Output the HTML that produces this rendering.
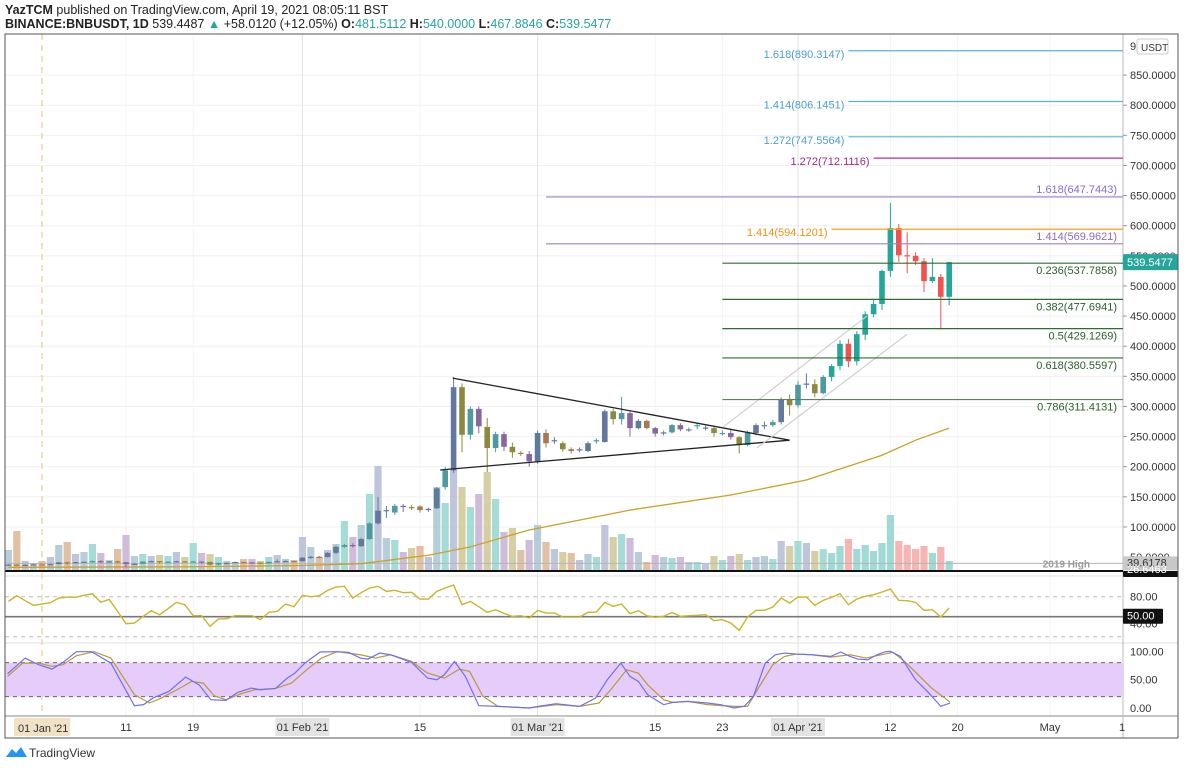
<!DOCTYPE html>
<html><head><meta charset="utf-8"><style>
html,body{margin:0;padding:0;background:#fff;}
svg{display:block;font-family:"Liberation Sans",sans-serif;}
</style></head><body>
<svg id="chart" width="1186" height="768" viewBox="0 0 1186 768" xmlns="http://www.w3.org/2000/svg">
<rect x="0" y="0" width="1186" height="768" fill="#fff"/>
<g font-size="12.5" fill="#222">
<text x="5" y="14"><tspan font-weight="bold">YazTCM</tspan> published on TradingView.com, April 19, 2021 08:05:11 BST</text>
<text x="5" y="28"><tspan font-weight="bold">BINANCE:BNBUSDT, 1D</tspan> 539.4487 <tspan fill="#26a69a">▲</tspan> +58.0120 (+12.05%) <tspan font-weight="bold">O:</tspan><tspan fill="#26a69a">481.5112</tspan> <tspan font-weight="bold">H:</tspan><tspan fill="#26a69a">540.0000</tspan> <tspan font-weight="bold">L:</tspan><tspan fill="#26a69a">467.8846</tspan> <tspan font-weight="bold">C:</tspan><tspan fill="#26a69a">539.5477</tspan></text>
</g>
<g id="grid"></g>
<g id="vols"></g>
<g id="main"></g>
<g id="ind"></g>
<g id="axes" font-size="11" fill="#333"></g>
<rect x="5" y="34" width="1173" height="704" fill="none" stroke="#555" stroke-width="1"/>
<g>
<path d="M6 757 l6 -8 l4 4 l5 -6 l6 10 z" fill="#2196f3"/>
<text x="29" y="757" font-size="12" fill="#333">TradingView</text>
</g>
</svg>
<script>
// ---- data ----
const firstDay = -4; // Dec 28 2020; day 0 = Jan 1 2021
const opens  = [36.5,37.5,37,37.2,37.9,37.4,38.3,41.3,40.9,41.7,42.2,43.2,42,42.8,41.5,38.5,38.8,42.5,43.3,41.6,42.3,43,42.2,42.6,42,37.5,40.2,40.2,41.8,41.2,41,39.5,42.1,43,43.5,43,49,50.5,50,57,67,70,68,80,106,127,124,135,133,134,128,131,166,194,332,253,296,266,231,254,233,223,221,209,256,243,239,229,228,226,242,241,292,279,289,264,276,264,257,257,269,262,268,264,264,256,256,249,236,256,269,269,274,311,302,338,337,322,349,367,404,375,419,453,470,525,596,551,550,541,508,515,482];
const highs  = [38,38.5,38,38.3,38.8,39,42,42.5,42,42.5,44.5,44.8,43.4,44,41.8,40,43,44,43.5,42.8,43.8,43.2,43.8,43,42.2,41,41,42.5,42.5,42,41.2,42.5,46,44.5,44,50,52,52,58,69,72,73,82,108,150,135,138,138,136,136,132,166,200,349,338,300,300,281,258,258,240,226,226,260,262,249,242,232,232,242,247,295,296,316,292,279,278,266,260,271,272,265,272,268,268,260,262,251,260,272,275,278,315,320,342,355,345,352,370,410,412,425,458,478,527,638,603,589,556,546,546,520,540];
const lows   = [35.5,36,36,36.6,36.9,36.3,37.8,37,39.2,40.5,40.8,40,41,40,33,36.8,38,41.5,39.5,40.5,41.2,41,41.8,39,36.5,36,39.5,40,40.5,40,38.5,39,41.5,42,41.5,42.5,47,48,49.5,55,65,66,67,78,104,115,120,125,128,124,125,130,162,190,224,245,255,191,224,226,215,218,200,205,232,238,225,222,224,224,238,240,270,270,250,262,262,250,252,255,259,258,262,260,250,252,245,222,234,252,262,266,270,285,298,330,315,320,342,360,365,368,410,448,460,515,540,521,535,490,505,428,468];
const closes = [37.5,37,37.2,37.9,37.4,38.3,41.3,40.9,41.7,42.2,43.2,42,42.8,41.5,38.5,38.8,42.5,43.3,41.6,42.3,43,42.2,42.6,42,37.5,40.2,40.2,41.8,41.2,41,39.5,42.1,43,43.5,42.8,49,50.5,50,57,67,70,68,80,106,127,128,135,133,132,128,130,164,194,332,253,296,267,231,254,233,224,221,209,256,239,244,229,226,229,239,244,292,279,289,264,276,264,255,257,269,262,262,269,265,256,256,249,236,256,269,269,274,311,302,336,338,322,349,367,404,375,420,453,470,525,596,551,550,541,508,515,482,539.5];
const volumes = [21,40,10,8,10,14,26,29,17,19,27,18,11,22,36,15,17,15,16,15,19,14,28,18,17,14,10,9,12,12,10,14,16,12,11,34,24,14,21,27,50,34,46,77,105,33,31,19,23,25,14,84,68,101,84,64,77,99,72,39,43,21,31,46,29,22,19,18,11,17,14,46,34,37,33,19,9,16,14,13,14,9,9,7,15,11,15,17,11,14,15,12,30,25,30,28,20,22,18,25,32,22,26,20,28,56,30,26,22,25,18,24,10];
const maDays = [-4,18,31,38,46,51,58,70,82,91,100,104,108];
const maVals = [33,34,36,39,53,67,95,128,153,178,219,244,264];
const rsiVals = [73,81.5,74,67,69,71,78,79.5,79,82,84.5,71.5,76,58,39.5,40.5,50,59,53,62,71.5,68,51.5,51.5,35.5,46.5,47,51.5,51.5,51.5,45.5,56.5,58,69,65,82,80,81.5,89.5,94.5,95.5,78,86,93,95.5,88,89.5,86,86.5,76.5,76.5,88,93,97.5,68,73,65,56.5,60.5,55,50.5,51.5,48,59.5,55.5,55.5,49.5,49.5,49.5,56.5,57,71.5,65.5,69,54.5,59,51.5,49,50.5,56.5,50.5,51.5,52,53,44,45.5,40.5,29.5,49.5,59.5,59.5,64.5,78,70.5,79.5,79.5,67,74.5,79,84.5,68,76.5,80.5,83,87,91.5,74.5,74,71.5,59.5,60.5,49.5,63];
const kDays = [-4.1,-2,-0.4,1.2,2.5,4.1,5.9,8.2,11,12.1,13.2,15.1,17.1,18.7,20.1,21.9,23.3,24.9,26,27.8,29.2,30.1,31.3,33.1,35.1,36.5,37.9,38.8,40.2,41.5,44,45.9,47,47.9,49.1,50.4,52,54.3,58,59.1,61.2,64,65.9,67.3,68.9,70,71,72.1,74,75.1,76.9,79.2,80.8,82.4,83.6,84.7,86.1,87.3,88.4,89.8,91.6,93.9,95.1,96.2,97.1,98.3,99.4,100.4,101,102.2,104,105.4,107,108.1];
const kVals = [60.4,88.1,76.3,68.6,80.4,99.3,99.3,79.2,4.1,5.9,17.5,29.2,54.5,40.9,14.6,13.4,27.5,35.1,32.2,34.5,52.7,61.5,79.2,98.8,99.3,98.2,88.1,86.3,96.9,93.9,80.4,52.7,49.8,58.6,82.2,55.7,4.1,2.9,0,2.9,7.6,2.9,17.5,49.8,79.2,55.7,46.8,23.4,5.9,9.9,11.7,8.8,5.9,0,2.9,20.5,79.2,93.9,96.9,95.1,93.9,91,98.8,91,86.3,85.1,93.9,99.3,99.9,91,49.8,29.2,2.9,8.8];
const dDays = [-4.1,-2.3,-0.4,1.2,2.5,4.1,6.2,8.2,11,12.8,14.2,16.2,17.8,19.2,20.5,21.9,23.7,25.3,27.8,29.7,31.5,33.3,35.1,37.9,39.7,41.5,44,45.9,47.9,49.7,50.9,52.5,54.3,58,61.2,64,66.3,67.7,69.6,71,72.1,74,75.1,76.9,79.2,82.4,84,85.4,87,88.4,89.8,91.6,93.9,96.2,98.1,99.4,101.3,102.7,104.5,105.9,108.1];
const dVals = [55.7,79.2,79.2,73.3,76.3,92.2,99.3,88.1,23.4,8.8,17.5,33.3,46.8,43.9,21.6,14.6,25.2,32.2,34.5,43.9,67.4,88.1,99.3,93.9,88.1,93.9,82.2,61.5,52.7,68.6,64.5,20.5,2.9,0,5.9,2.9,8.8,32.2,67.4,61.5,40.9,14.6,9.9,11.7,5.9,2.9,2.9,38,76.3,91,95.1,93.9,89.8,93.9,88.1,92.2,98.2,82.2,55.7,35.1,10.5];
const priceTicks = [100,150,200,250,300,350,400,450,500,550,600,650,700,750,800,850];
const priceTickLabels = ["100.0000","150.0000","200.0000","250.0000","300.0000","350.0000","400.0000","450.0000","500.0000","550.0000","600.0000","650.0000","700.0000","750.0000","800.0000","850.0000"];
const timeTickDays = [10,18,31,45,59,73,81,90,101,109,120];
const timeTickLabels = ["11","19","01 Feb '21","15","01 Mar '21","15","23","01 Apr '21","12","20","May"];
const fibPrices = [890.3147,806.1451,747.5564,712.1116,647.7443,594.1201,569.9621,537.7858,477.6941,429.1269,380.5597,311.4131];
const fibLabels = ["1.618(890.3147)","1.414(806.1451)","1.272(747.5564)","1.272(712.1116)","1.618(647.7443)","1.414(594.1201)","1.414(569.9621)","0.236(537.7858)","0.382(477.6941)","0.5(429.1269)","0.618(380.5597)","0.786(311.4131)"];
const fibStartDays = [96,96,96,99,60,94,60,81,81,81,81,81];
const triUpperDays = [48.9,89], triUpperPrices = [347,244];
const triLowerDays = [47.4,89], triLowerPrices = [194.5,244];
const chUpperDays = [81.1,98.2], chUpperPrices = [266,450];
const chLowerDays = [85.1,103], chLowerPrices = [231,420];

// ---- scales ----
const X0 = 42, DX = 8.4, PLOT_R = 1123;
const xOf = d => X0 + d*DX;
const yOf = p => 587.2 - 0.6025*p;
const rsiY = v => 616.7 - (v-50)*0.667;
const stY = v => 708 - v*0.567;
const NS = "http://www.w3.org/2000/svg";
function mk(tag, attrs, parent){const e=document.createElementNS(NS,tag);for(const k in attrs)e.setAttribute(k,attrs[k]);parent.appendChild(e);return e;}
const grid=document.getElementById('grid'), vols=document.getElementById('vols'), main=document.getElementById('main'), ind=document.getElementById('ind'), axes=document.getElementById('axes');

priceTicks.forEach(p=>{const l=mk('line',{x1:5,x2:PLOT_R,y1:yOf(p),y2:yOf(p),stroke:'#f0f0f0'},grid);

});
timeTickDays.forEach((d,i)=>{const strong=timeTickLabels[i].length>3;const l=mk('line',{x1:xOf(d),x2:xOf(d),y1:34,y2:716,stroke:strong?'#e2e2e2':'#f3f3f3'},grid);

});
[[576,'#e0e0e0'],[643,'#e0e0e0'],[716,'#888']].forEach(s=>{const l=mk('line',{x1:5,x2:1178,y1:s[0],y2:s[0],stroke:s[1]},grid);

});
const ax=mk('line',{x1:PLOT_R,x2:PLOT_R,y1:34,y2:738,stroke:'#bbb'},grid);


const jan=mk('line',{x1:xOf(0),x2:xOf(0),y1:34,y2:716,stroke:'#e8d7a8','stroke-width':1.5,'stroke-dasharray':'6,5'},grid);



const upCols=['#5d7c9a','#4f9aa0','#62789e'], dnCols=['#8c8a3e','#a57a4c','#86689e'];
const upVol=['#a9c4d4','#96d6d0','#b4bcd6'], dnVol=['#cfc794','#dcb694','#c6b0d4'];
function candleColor(i,d){const up=closes[i]>=opens[i];if(d>=94)return up?'#26a69a':'#ef5350';return up?upCols[i%3]:dnCols[i%3];}
function volColor(i,d){const up=closes[i]>=opens[i];if(d>=94)return up?'#8fd3cc':'#f4a7a6';return up?upVol[i%3]:dnVol[i%3];}

volumes.forEach((v,i)=>{const d=firstDay+i;const r=mk('rect',{x:xOf(d)-3.6,y:571-v,width:7.2,height:v,fill:volColor(i,d),opacity:0.85},vols);

});

const h19=mk('line',{x1:5,x2:PLOT_R,y1:yOf(39.6178),y2:yOf(39.6178),stroke:'#b5b5b5'},main);


const base=mk('line',{x1:5,x2:PLOT_R,y1:571,y2:571,stroke:'#111','stroke-width':2},main);



const ma=mk('polyline',{points:maDays.map((d,i)=>xOf(d)+','+yOf(maVals[i])).join(' '),fill:'none',stroke:'#c9a227','stroke-width':1.3},main);



opens.forEach((o,i)=>{const d=firstDay+i;const c=closes[i];const col=candleColor(i,d);const x=xOf(d);
const w=mk('line',{x1:x,x2:x,y1:yOf(highs[i]),y2:yOf(lows[i]),stroke:col,'stroke-width':1},main);


const top=yOf(Math.max(o,c)),h=Math.max(1.2,Math.abs(yOf(o)-yOf(c)));
const b=mk('rect',{x:x-2.8,y:top,width:5.6,height:h,fill:col},main);

});

function seg(ds,ps,stroke,sw,name){const l=mk('line',{x1:xOf(ds[0]),y1:yOf(ps[0]),x2:xOf(ds[1]),y2:yOf(ps[1]),stroke:stroke,'stroke-width':sw},main);

}
seg(triUpperDays,triUpperPrices,'#222',1.3,'triangle-upper-line');
seg(triLowerDays,triLowerPrices,'#222',1.3,'triangle-lower-line');
seg(chUpperDays,chUpperPrices,'#cfcfcf',1.2,'channel-upper-line');
seg(chLowerDays,chLowerPrices,'#cfcfcf',1.2,'channel-lower-line');

const fibCol=['#5fb0dc','#5fb0dc','#5fb0dc','#b0359a','#9a80cc','#ff9f1c','#9a80cc','#2f6d2f','#2f6d2f','#2f6d2f','#2f6d2f','#5f7f5f'];
const fibTextCol=['#4a9fd0','#4a9fd0','#4a9fd0','#9c2a8c','#8a6cc4','#f39010','#8a6cc4','#2a5e2a','#2a5e2a','#2a5e2a','#2a5e2a','#2a5e2a'];
fibPrices.forEach((p,i)=>{const y=yOf(p),x1=xOf(fibStartDays[i]);
const l=mk('line',{x1:x1,x2:PLOT_R,y1:y,y2:y,stroke:fibCol[i],'stroke-width':1.2},main);


let t;
if(i<4||i==5){t=mk('text',{x:x1-4,y:y+7,'text-anchor':'end','font-size':11,fill:fibTextCol[i]},main);}
else if(i==4||i==6){t=mk('text',{x:1117,y:y-4,'text-anchor':'end','font-size':11,fill:fibTextCol[i]},main);}
else{t=mk('text',{x:1117,y:y+11,'text-anchor':'end','font-size':11,fill:fibTextCol[i]},main);}
t.textContent=fibLabels[i];

});

[[80,'4,4','#bbb'],[20,'4,4','#bbb']].forEach(r=>{const l=mk('line',{x1:5,x2:PLOT_R,y1:rsiY(r[0]),y2:rsiY(r[0]),stroke:r[2],'stroke-dasharray':r[1]},ind);

});
const r50=mk('line',{x1:5,x2:PLOT_R,y1:rsiY(50),y2:rsiY(50),stroke:'#777','stroke-width':1.6},ind);


const rsi=mk('polyline',{points:rsiVals.map((v,i)=>xOf(firstDay+i)+','+rsiY(v)).join(' '),fill:'none',stroke:'#c9b52a','stroke-width':1.4},ind);



const band=mk('rect',{x:5,y:stY(80),width:PLOT_R-5,height:stY(20)-stY(80),fill:'#e6ccfa'},ind);


[80,20].forEach(v=>{const l=mk('line',{x1:5,x2:PLOT_R,y1:stY(v),y2:stY(v),stroke:'#666','stroke-dasharray':'4,4'},ind);

});
const dl=mk('polyline',{points:dDays.map((d,i)=>xOf(d)+','+stY(dVals[i])).join(' '),fill:'none',stroke:'#b59a3c','stroke-width':1.2},ind);


const kl=mk('polyline',{points:kDays.map((d,i)=>xOf(d)+','+stY(kVals[i])).join(' '),fill:'none',stroke:'#6f6ff0','stroke-width':1.2},ind);



priceTicks.forEach((p,i)=>{const y=yOf(p);if(p==550)return;
const tk=mk('line',{x1:PLOT_R,x2:PLOT_R+4,y1:y,y2:y,stroke:'#999'},axes);


const t=mk('text',{x:1130,y:y+4},axes);t.textContent=priceTickLabels[i];

});
function box(x,y,w,h,fill,txt,tcol,name){const g=mk('g',{},axes);


mk('rect',{x:x,y:y,width:w,height:h,fill:fill,rx:1},g);const t=mk('text',{x:x+4,y:y+h-4,fill:tcol},g);t.textContent=txt;return g;}
const t550=mk('text',{x:1130,y:yOf(550)+4},axes);t550.textContent='550.0000';


box(1123,yOf(539.5477)-8,55,16,'#26a69a','539.5477','#fff','last-price-label');
const t9=mk('text',{x:1130,y:50},axes);t9.textContent='9          0';


const ub=mk('g',{},axes);


mk('rect',{x:1137,y:39,width:31,height:15,fill:'#fff',stroke:'#ccc',rx:2},ub);
const ut=mk('text',{x:1141,y:51,'font-size':10},ub);ut.textContent='USDT';
const t50=mk('text',{x:1130,y:yOf(50)+4},axes);t50.textContent='50.0000';


const hl=mk('text',{x:1090,y:yOf(39.6178)+4,'text-anchor':'end','font-size':10,fill:'#999','font-weight':'bold'},axes);hl.textContent='2019 High';


box(1123,yOf(39.6178)-7,55,14,'#c8c8c8','39.6178','#333','2019-high-price-label');
box(1123,571,55,6,'#111','26.6463','#fff','support-price-label');
const r80=mk('text',{x:1130,y:rsiY(80)+4},axes);r80.textContent='80.00';


const r40=mk('text',{x:1130,y:rsiY(40)+4},axes);r40.textContent='40.00';


box(1123,rsiY(50)-8,40,15,'#111','50.00','#fff','rsi-50-label');
[[100,'100.00'],[50,'50.00'],[0,'0.00']].forEach(s=>{const t=mk('text',{x:1130,y:stY(s[0])+4},axes);t.textContent=s[1];

});
const jb=box(14,718,56,18,'#f1e2c6','01 Jan \'21','#333','time-label-jan');
timeTickDays.forEach((d,i)=>{const lab=timeTickLabels[i];const x=xOf(d);
if(lab.length>3){const w=54;const g=mk('rect',{x:x-w/2,y:718,width:w,height:18,fill:'#e3e3e3'},axes);

}
const t=mk('text',{x:x,y:731,'text-anchor':'middle'},axes);t.textContent=lab;

});
const t1=mk('text',{x:1122,y:731,'text-anchor':'middle'},axes);t1.textContent='1';


</script>
</body></html>
